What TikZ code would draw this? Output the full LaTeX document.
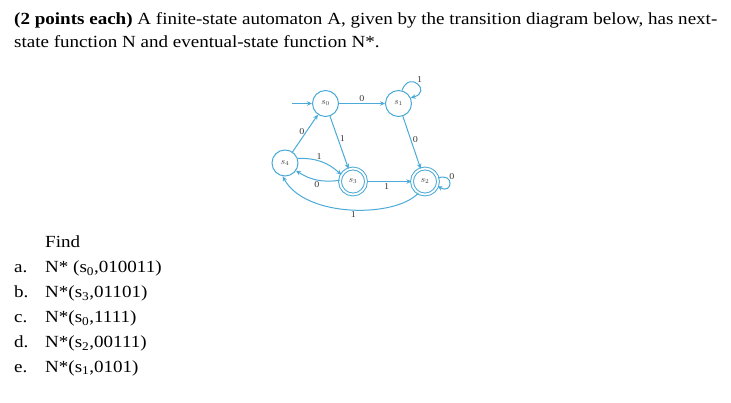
\documentclass[tikz,border=0pt]{standalone}
\usepackage{fontspec}
\setmainfont[FakeStretch=1.12]{Liberation Serif}
\usetikzlibrary{arrows.meta}
\definecolor{fsa}{RGB}{75,170,215}
\definecolor{lbl}{RGB}{60,60,60}
\tikzset{
  state/.style={circle, draw=fsa, line width=1pt, minimum size=26pt, inner sep=0pt, font=\fontsize{9}{9}\selectfont\itshape, text=lbl},
  accept/.style={state, double=white, double distance=1.8pt},
  edge/.style={draw=fsa, line width=1pt, -{Stealth[length=5pt,width=4.5pt]}},
  elab/.style={font=\fontsize{9}{9}\selectfont, text=lbl, inner sep=1.5pt},
  body/.style={anchor=base west, inner sep=0pt, font=\fontsize{17}{17}\selectfont}
}
\begin{document}
\begin{tikzpicture}[x=1pt,y=-1pt]
\useasboundingbox (0,0) rectangle (731,403);
\fill[white] (0,0) rectangle (731,403);
% header text
\node[body] (t1) at (14,25) {\textbf{(2 points each)} A finite-state automaton A, given by the transition diagram below, has next-};
\node[body] (t2) at (14,48) {state function N and eventual-state function N*.};
% states
\node[state] (s0) at (325.5,103.5) {$s_0$};
\node[state] (s1) at (398.5,103.5) {$s_1$};
\node[state] (s4) at (285,163) {$s_4$};
\node[accept] (s3) at (353,181.5) {$s_3$};
\node[accept] (s2) at (425,181.5) {$s_2$};
\coordinate (init) at (292,103.5);
% edges
\draw[edge] (init) -- (s0);
\draw[edge] (s0) -- node[elab, above] {0} (s1);
\draw[edge] (s1.75) to[out=70,in=15,looseness=5] node[elab, above right, pos=0.45, inner sep=0.5pt] {1} (s1.25);
\draw[edge] (s1) -- node[elab, right, pos=0.45] {0} (s2);
\draw[edge] (s0) -- node[elab, right, pos=0.42] {1} (s3);
\draw[edge] (s4) -- node[elab, left, pos=0.55] {0} (s0);
\draw[edge] (s4.20) to[bend left=22] node[elab, above, pos=0.45] {1} (s3.150);
\draw[edge] (s3.175) to[bend left=20] node[elab, below, pos=0.5] {0} (s4.-35);
\draw[edge] (s3) -- node[elab, below, pos=0.45] {1} (s2);
\draw[edge] (s2.15) to[out=20,in=-30,looseness=5.5] node[elab, above right, pos=0.35, inner sep=0pt] {0} (s2.-20);
\draw[edge] (s2.-120) .. controls (395,218) and (305,218) .. node[elab, below, pos=0.48] {1} (s4.-100);
% questions
\node[body] (find) at (45,248) {Find};
\node[body] (la) at (14,273) {a.};
\node[body] (qa) at (45,273) {N* (s\textsubscript{0},010011)};
\node[body] (lb) at (14,298) {b.};
\node[body] (qb) at (45,298) {N*(s\textsubscript{3},01101)};
\node[body] (lc) at (14,323) {c.};
\node[body] (qc) at (45,323) {N*(s\textsubscript{0},1111)};
\node[body] (ld) at (14,348) {d.};
\node[body] (qd) at (45,348) {N*(s\textsubscript{2},00111)};
\node[body] (le) at (14,372) {e.};
\node[body] (qe) at (45,372) {N*(s\textsubscript{1},0101)};
\end{tikzpicture}
\end{document}
